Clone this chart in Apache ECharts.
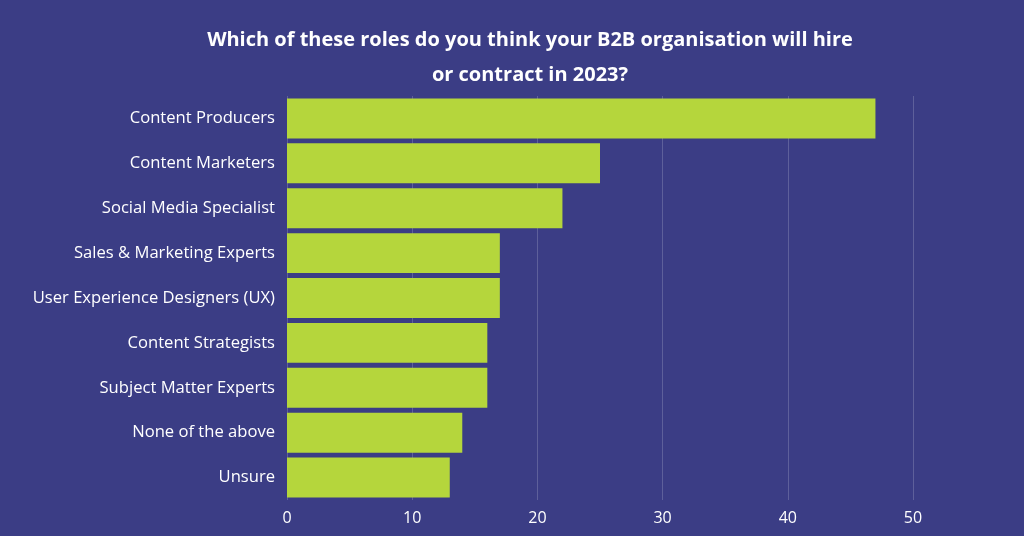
<!DOCTYPE html>
<html><head><meta charset="utf-8">
<script src="https://cdn.jsdelivr.net/npm/echarts@6/dist/echarts.min.js"></script>
<style>html,body{margin:0;background:#3b3d85;}#c{width:1024px;height:536px;}</style>
</head><body><div id="c"></div>
<script>
const categories = ["Content Producers","Content Marketers","Social Media Specialist","Sales & Marketing Experts","User Experience Designers (UX)","Content Strategists","Subject Matter Experts","None of the above","Unsure"];
const values = [47,25,22,17,17,16,16,14,13];
const chart = echarts.init(document.getElementById('c'));
chart.setOption({
  backgroundColor:'#3b3d85',
  title:{text:'Which of these roles do you think your B2B organisation will hire\nor contract in 2023?',left:525,textAlign:'center',top:18,
    textStyle:{color:'#fff',fontFamily:'Open Sans',fontWeight:'bold',fontSize:20,lineHeight:35}},
  grid:{left:287,right:111,top:96,bottom:36},
  xAxis:{type:'value',min:0,max:50,interval:10,
    axisLabel:{color:'#fff',fontFamily:'Open Sans',fontSize:16,margin:10},
    splitLine:{lineStyle:{color:'rgba(255,255,255,0.18)'}},axisLine:{show:false},axisTick:{show:false}},
  yAxis:{type:'category',data:categories,inverse:true,
    axisLabel:{color:'#fff',fontFamily:'Open Sans',fontSize:16.6,margin:12},
    axisLine:{show:false},axisTick:{show:false}},
  series:[{type:'bar',data:values,barCategoryGap:'11%',itemStyle:{color:'#b5d63c'},animation:false}]
});
</script></body></html>
